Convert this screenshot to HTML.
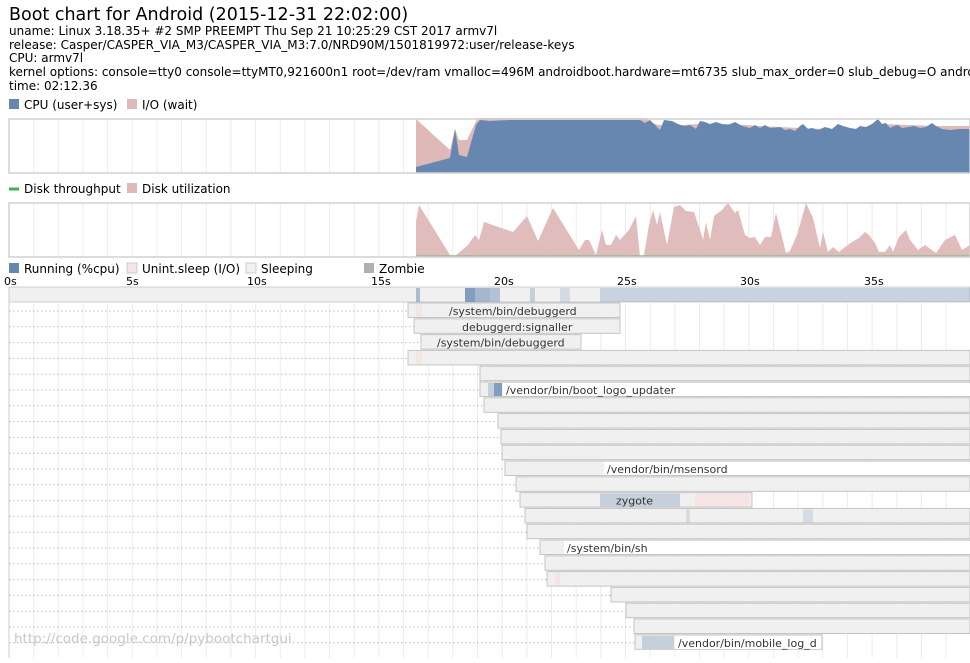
<!DOCTYPE html>
<html><head><meta charset="utf-8"><style>
body{margin:0;background:#fff;width:970px;height:658px;overflow:hidden}
svg text{font-family:"DejaVu Sans","Liberation Sans",sans-serif}
</style></head><body>
<svg width="970" height="658" viewBox="0 0 970 658" xmlns="http://www.w3.org/2000/svg">
<rect width="970" height="658" fill="#fff"/>
<text x="9" y="20" font-size="17.5" fill="#000">Boot chart for Android (2015-12-31 22:02:00)</text>
<g font-size="12" fill="#000">
<text x="9" y="35">uname: Linux 3.18.35+ #2 SMP PREEMPT Thu Sep 21 10:25:29 CST 2017 armv7l</text>
<text x="9" y="49">release: Casper/CASPER_VIA_M3/CASPER_VIA_M3:7.0/NRD90M/1501819972:user/release-keys</text>
<text x="9" y="62">CPU: armv7l</text>
<text x="9" y="76">kernel options: console=tty0 console=ttyMT0,921600n1 root=/dev/ram vmalloc=496M androidboot.hardware=mt6735 slub_max_order=0 slub_debug=O android</text>
<text x="9" y="90">time: 02:12.36</text>
</g>
<rect x="9" y="99" width="10" height="10" fill="#6688b0"/><text x="24" y="109" font-size="12">CPU (user+sys)</text>
<rect x="127" y="99" width="10" height="10" fill="#dfb8b8"/><text x="142" y="109" font-size="12">I/O (wait)</text>
<g stroke="#ececec" stroke-width="1" fill="none">
<path d="M33.7 119V173M58.3 119V173M83 119V173M107.6 119V173M132.3 119V173M157 119V173M181.6 119V173M206.3 119V173M230.9 119V173M255.6 119V173M280.3 119V173M304.9 119V173M329.6 119V173M354.2 119V173M378.9 119V173M403.6 119V173"/>
<path d="M33.7 203V257M58.3 203V257M83 203V257M107.6 203V257M132.3 203V257M157 203V257M181.6 203V257M206.3 203V257M230.9 203V257M255.6 203V257M280.3 203V257M304.9 203V257M329.6 203V257M354.2 203V257M378.9 203V257M403.6 203V257"/>
<path d="M33.7 303V658M58.3 303V658M83 303V658M107.6 303V658M132.3 303V658M157 303V658M181.6 303V658M206.3 303V658M230.9 303V658M255.6 303V658M280.3 303V658M304.9 303V658M329.6 303V658M354.2 303V658M378.9 303V658M403.6 303V658M428.2 303V658M452.9 303V658M477.5 303V658M502.2 303V658M526.9 303V658M551.5 303V658M576.2 303V658M600.8 303V658M625.5 303V658M650.2 303V658M674.8 303V658M699.5 303V658M724.1 303V658M748.8 303V658M773.5 303V658M798.1 303V658M822.8 303V658M847.4 303V658M872.1 303V658M896.8 303V658M921.4 303V658M946.1 303V658"/>
</g>
<polygon fill="#dfb8b8" points="416,173 416,119 450,150 455,129 459,140 467,140 476,121 480,118 645,118 655,124 665,126 700,124 730,124 760,126 800,128 850,130 880,124 940,126 970,126 970,173"/>
<polygon fill="#6688b0" points="416,173 416,167 450,158 455,129 459,155 467,157 476,125 480,120 490,121 510,120 640,120 645,123 650,120 657,127 660,130 664,120 672,121 678,124 684,126 690,125 696,129 700,121 705,122 710,124 716,122 722,124 728,125 735,122 742,126 750,128 755,125 760,128 765,125 770,128 780,127 785,130 790,129 795,131 800,126 803,124 808,129 812,128 818,130 825,127 832,129 838,124 843,126 850,128 856,129 860,126 866,127 872,124 878,119 882,124 886,123 890,128 894,126 898,125 902,128 908,127 914,126 920,128 926,127 932,123 936,126 942,129 950,130 960,129 970,129 970,173"/>
<rect x="9" y="119" width="961" height="54" fill="none" stroke="#d0d0d0" stroke-width="1.5"/>
<line x1="9" y1="189" x2="19" y2="189" stroke="#3cb44a" stroke-width="3"/>
<text x="24" y="193" font-size="12">Disk throughput</text>
<rect x="127" y="183" width="10" height="10" fill="#dfb8b8"/><text x="142" y="193" font-size="12">Disk utilization</text>
<g stroke="#ececec"><path d="M428.2 203V257M452.9 203V257M477.5 203V257M502.2 203V257M526.9 203V257M551.5 203V257M576.2 203V257M600.8 203V257M625.5 203V257M650.2 203V257M674.8 203V257M699.5 203V257M724.1 203V257M748.8 203V257M773.5 203V257M798.1 203V257M822.8 203V257M847.4 203V257M872.1 203V257M896.8 203V257M921.4 203V257M946.1 203V257"/></g>
<polygon fill="#dfb8b8" opacity="0.95" points="416,257 416,221 419,205 450,255 455,256 468,245 475,235 479,240 484,222 513,232 527,216 538,241 553,208 579,250 585,240 589,240 596,255 602,230 606,245 611,245 616,235 620,240 629,230 636,216 640,257 644,255 649,225 653,210 657,225 660,212 667,245 674,207 680,205 686,211 694,212 700,230 703,240 706,222 710,240 714,216 722,210 728,203 735,213 738,210 745,235 750,238 755,237 760,245 765,237 771,237 776,213 786,253 790,251 797,235 806,203 813,218 820,248 823,232 828,252 833,247 839,252 845,247 852,242 859,238 865,232 869,235 875,243 879,252 885,252 890,245 893,252 899,237 906,230 910,240 918,250 925,245 936,253 945,240 955,235 962,250 970,245 970,257"/>
<line x1="416" y1="256" x2="970" y2="256" stroke="#8cbf8c" stroke-width="1.5"/>
<rect x="9" y="203" width="961" height="54" fill="none" stroke="#d0d0d0" stroke-width="1.5"/>
<rect x="9" y="263" width="10" height="10" fill="#6688b0"/><text x="24" y="273" font-size="12">Running (%cpu)</text>
<rect x="127" y="263" width="10" height="10" fill="#f5e4e4" stroke="#ccc"/><text x="142" y="273" font-size="12">Unint.sleep (I/O)</text>
<rect x="246" y="263" width="10" height="10" fill="#f0f0f0" stroke="#ccc"/><text x="261" y="273" font-size="12">Sleeping</text>
<rect x="364" y="263" width="10" height="10" fill="#b0b0b0"/><text x="379" y="273" font-size="12">Zombie</text>
<g font-size="11" fill="#000">
<text x="4" y="285">0s</text><text x="126" y="285">5s</text><text x="247" y="285">10s</text><text x="371" y="285">15s</text><text x="494" y="285">20s</text><text x="617" y="285">25s</text><text x="740" y="285">30s</text><text x="864" y="285">35s</text>
</g>
<line x1="9" y1="287" x2="9" y2="658" stroke="#ccc"/>
<rect x="9" y="287" width="961" height="15" fill="#f0f0f0" stroke="#ccc"/>
<g fill="#6688b0">
<rect x="416" y="288" width="4" height="14" opacity=".5"/>
<rect x="465" y="288" width="10" height="14" opacity=".8"/>
<rect x="475" y="288" width="15" height="14" opacity=".55"/>
<rect x="490" y="288" width="10" height="14" opacity=".45"/>
<rect x="530" y="288" width="5" height="14" opacity=".3"/>
<rect x="560" y="288" width="10" height="14" opacity=".2"/>
<rect x="600" y="288" width="370" height="14" opacity=".28"/>
</g>
<g stroke="#bbb" stroke-dasharray="1.5,2.5">
<path d="M9 311H408M9 326.8H414M9 342.6H421M9 358.4H408M9 374.2H480M9 390H480M9 405.8H484M9 421.6H498M9 437.4H501M9 453.2H502M9 469H505M9 484.8H516M9 500.6H520M9 516.4H525M9 532.2H527M9 548H540M9 563.8H545M9 579.6H547M9 595.4H611M9 611.2H626M9 627H634M9 642.8H635"/>
</g>
<g fill="#f0f0f0" stroke="#c4c4c4">
<rect x="408" y="303" width="212" height="14.5"/>
<rect x="414" y="318.8" width="206" height="14.5"/>
<rect x="421" y="334.6" width="160" height="14.5"/>
<rect x="408" y="350.4" width="562" height="14.5"/>
<rect x="480" y="366.2" width="490" height="14.5"/>
<rect x="480" y="382" width="490" height="14.5"/>
<rect x="484" y="397.8" width="486" height="14.5"/>
<rect x="498" y="413.6" width="472" height="14.5"/>
<rect x="501" y="429.4" width="469" height="14.5"/>
<rect x="502" y="445.2" width="468" height="14.5"/>
<rect x="505" y="461" width="465" height="14.5"/>
<rect x="516" y="476.8" width="454" height="14.5"/>
<rect x="520" y="492.6" width="232" height="14.5"/>
<rect x="525" y="508.4" width="445" height="14.5"/>
<rect x="527" y="524.2" width="443" height="14.5"/>
<rect x="540" y="540" width="430" height="14.5"/>
<rect x="545" y="555.8" width="425" height="14.5"/>
<rect x="547" y="571.6" width="423" height="14.5"/>
<rect x="611" y="587.4" width="359" height="14.5"/>
<rect x="626" y="603.2" width="344" height="14.5"/>
<rect x="634" y="619" width="336" height="14.5"/>
<rect x="635" y="634.8" width="187" height="14.5"/>
</g>
<g fill="#fff">
<rect x="503" y="383" width="467" height="13"/>
<rect x="604" y="462" width="366" height="13"/>
<rect x="564" y="541" width="406" height="13"/>
<rect x="675" y="636" width="146" height="13"/>
</g>
<g fill="#6688b0">
<rect x="494" y="383" width="8" height="13" opacity=".8"/>
<rect x="488" y="383" width="6" height="13" opacity=".3"/>
<rect x="600" y="493.6" width="80" height="13" opacity=".3"/>
<rect x="686" y="509.4" width="4" height="13" opacity=".2"/>
<rect x="803" y="509.4" width="10" height="13" opacity=".2"/>
<rect x="642" y="635.8" width="32" height="13" opacity=".3"/>
</g>
<rect x="695" y="493.6" width="55" height="13" fill="#f5e4e4"/>
<rect x="416" y="304" width="6" height="13" fill="#f5e4e4"/>
<rect x="416" y="351.4" width="6" height="13" fill="#f5e4e4"/>
<rect x="555" y="572.6" width="5" height="13" fill="#f5e4e4"/>
<g font-size="11" fill="#333">
<text x="449" y="315">/system/bin/debuggerd</text>
<text x="462" y="330.8">debuggerd:signaller</text>
<text x="437" y="346.6">/system/bin/debuggerd</text>
<text x="506" y="394">/vendor/bin/boot_logo_updater</text>
<text x="607" y="473">/vendor/bin/msensord</text>
<text x="616" y="504.6">zygote</text>
<text x="567" y="552">/system/bin/sh</text>
<text x="678" y="646.8">/vendor/bin/mobile_log_d</text>
</g>
<text x="14" y="643" font-size="13.5" fill="#c8c8c8">http://code.google.com/p/pybootchartgui</text>
</svg>
</body></html>
